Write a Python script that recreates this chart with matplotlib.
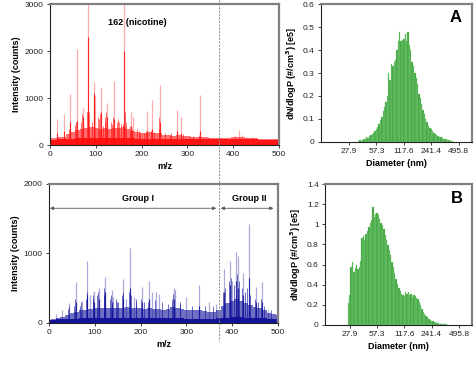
import numpy as np
import matplotlib
matplotlib.use("Agg")
import matplotlib.pyplot as plt
import matplotlib.transforms as mtransforms
from matplotlib.ticker import FixedLocator, FixedFormatter, NullLocator

plt.rcParams['font.family'] = ['Liberation Sans', 'DejaVu Sans']

# ---- mass spectra (m/z, counts) ----
grid_mz = list(range(0, 510, 10))

top_base = [110, 115, 120, 125, 130, 135, 140, 145, 150, 150, 150, 150, 150, 145, 145, 145, 145, 140, 140, 135,
            135, 135, 130, 130, 130, 130, 125, 125, 125, 125, 120, 120, 120, 120, 120, 120, 120, 120, 120, 120,
            125, 125, 125, 120, 120, 120, 115, 115, 115, 115, 115]
top_fuzz = [140, 150, 160, 180, 240, 280, 330, 350, 370, 380, 370, 350, 370, 340, 360, 370, 380, 340, 300, 270,
            250, 260, 270, 250, 250, 220, 210, 200, 210, 195, 185, 175, 180, 175, 160, 155, 155, 150, 155, 150,
            165, 180, 170, 150, 145, 145, 135, 135, 130, 130, 130]

top_faint_mz = [16, 30, 44, 58, 71, 84, 96, 99, 111, 125, 140, 162, 177, 181, 212, 223, 241, 278, 287, 328, 413, 420]
top_faint_h = [550, 650, 1080, 2040, 780, 3200, 1350, 1050, 1240, 900, 1360, 3200, 700, 600, 720, 950, 1275, 745,
               600, 1065, 320, 220]
top_strong_mz = [16, 30, 44, 58, 71, 84, 96, 111, 125, 140, 162, 177, 212, 223, 241, 278, 287, 328]
top_strong_h = [250, 300, 500, 520, 600, 2300, 1100, 700, 600, 550, 1990, 400, 300, 350, 500, 300, 250, 300]
top_clus_mz = [41, 43, 55, 57, 67, 69, 81, 83, 85, 91, 95, 97, 105, 107, 109, 115, 119, 121, 123, 133, 135, 137,
               147, 149, 151, 155, 159, 163, 165, 175, 179, 191, 195, 197, 205, 209, 221, 227, 237, 239, 251, 263,
               265, 277, 291, 305, 313, 326, 345, 405, 427, 441]
top_clus_h = [350, 480, 420, 500, 500, 650, 700, 900, 700, 500, 900, 700, 600, 550, 650, 400, 500, 600, 700, 500,
              450, 600, 500, 550, 500, 450, 450, 700, 500, 400, 350, 350, 300, 280, 250, 300, 300, 280, 350, 600,
              250, 220, 250, 300, 230, 200, 200, 220, 170, 200, 180, 160]

bot_base = [45, 50, 55, 55, 60, 60, 60, 65, 65, 65, 65, 65, 65, 65, 65, 65, 65, 65, 65, 65,
            65, 65, 65, 65, 65, 65, 65, 65, 65, 65, 60, 60, 60, 60, 60, 60, 60, 65, 70, 75,
            80, 80, 80, 75, 70, 70, 65, 65, 60, 60, 55]
bot_fuzz = [50, 60, 70, 90, 120, 140, 160, 180, 190, 200, 210, 210, 220, 210, 210, 220, 220, 230, 220, 210,
            210, 200, 210, 200, 200, 190, 200, 230, 220, 200, 190, 180, 180, 180, 170, 165, 165, 190, 250, 290,
            320, 340, 320, 290, 260, 230, 210, 180, 150, 130, 110]

bot_faint_mz = [15, 29, 44, 58, 71, 84, 90, 99, 109, 122, 137, 140, 162, 168, 177, 186, 204, 219, 224, 233, 240,
                273, 276, 300, 328, 349, 365, 382, 396, 400, 409, 413, 424, 437, 453, 466, 478]
bot_faint_h = [125, 190, 290, 585, 320, 890, 400, 460, 500, 666, 480, 380, 633, 350, 1075, 370, 513, 600, 450, 450,
               420, 500, 470, 380, 546, 300, 280, 777, 896, 600, 1017, 960, 720, 1425, 513, 585, 180]
bot_strong_mz = [58, 84, 99, 109, 122, 137, 162, 177, 204, 219, 273, 328, 382, 396, 409, 413, 424, 437, 453, 466]
bot_strong_h = [300, 400, 300, 350, 450, 300, 350, 500, 300, 350, 350, 250, 450, 550, 600, 500, 400, 650, 300, 300]
bot_clus_mz = [41, 43, 55, 57, 67, 69, 81, 83, 95, 97, 105, 107, 119, 121, 123, 133, 135, 147, 149, 151, 159, 161,
               175, 179, 189, 191, 201, 207, 217, 231, 247, 259, 269, 271, 285, 287, 313, 341, 357, 379, 385, 393,
               398, 405, 411, 415, 421, 427, 433, 439, 449, 457, 463, 470, 485]
bot_clus_h = [200, 250, 250, 350, 250, 300, 350, 450, 400, 350, 400, 450, 400, 500, 400, 350, 400, 350, 300, 300,
              400, 450, 450, 400, 350, 300, 350, 300, 300, 330, 300, 280, 350, 420, 300, 280, 250, 250, 250, 450,
              500, 600, 650, 550, 700, 600, 500, 450, 500, 400, 350, 300, 350, 250, 180]

# ---- size distributions (SMPS channel, 64 per decade; dN/dlogDp in e5) ----
chan_a = list(range(99, 168))
dn_a = [0.005, 0.008, 0.006, 0.010, 0.012, 0.015, 0.020, 0.018, 0.025, 0.030, 0.036, 0.040, 0.048, 0.055,
        0.065, 0.080, 0.095, 0.110, 0.135, 0.150, 0.175, 0.200, 0.300, 0.270, 0.340, 0.330, 0.350, 0.355,
        0.400, 0.440, 0.480, 0.440, 0.445, 0.450, 0.470, 0.440, 0.480, 0.420, 0.400, 0.350, 0.330, 0.300,
        0.280, 0.250, 0.210, 0.190, 0.165, 0.140, 0.120, 0.100, 0.085, 0.070, 0.062, 0.055, 0.048, 0.040,
        0.035, 0.030, 0.026, 0.022, 0.020, 0.018, 0.015, 0.012, 0.012, 0.008, 0.007, 0.005, 0.006]
chan_b = list(range(91, 164))
dn_b = [0.22, 0.30, 0.58, 0.63, 0.53, 0.57, 0.60, 0.56, 0.58, 0.64, 0.86, 0.88, 0.84, 0.90, 0.93, 0.97, 1.01,
        1.04, 1.17, 1.07, 1.10, 1.11, 1.09, 1.05, 1.01, 0.99, 0.95, 0.89, 0.84, 0.79, 0.75, 0.70, 0.63, 0.58,
        0.52, 0.46, 0.41, 0.37, 0.34, 0.31, 0.30, 0.29, 0.33, 0.31, 0.33, 0.30, 0.31, 0.28, 0.30, 0.29, 0.27,
        0.26, 0.23, 0.20, 0.16, 0.13, 0.11, 0.09, 0.08, 0.06, 0.05, 0.04, 0.035, 0.03, 0.025, 0.02, 0.018,
        0.014, 0.012, 0.010, 0.008, 0.006, 0.005]
dia_ticks = [27.9, 57.3, 117.6, 241.4, 495.8]

group_split = 370

fig = plt.figure(figsize=(4.74, 3.65), dpi=100)
ax1 = fig.add_axes([0.1055, 0.6027, 0.4831, 0.3863])
ax2 = fig.add_axes([0.6772, 0.611, 0.3186, 0.378])
ax3 = fig.add_axes([0.1034, 0.1151, 0.4831, 0.381])
ax4 = fig.add_axes([0.6857, 0.1096, 0.3101, 0.386])

lab = dict(fontsize=6.5, fontweight='bold')


def style(ax):
    for s in ['top', 'right']:
        ax.spines[s].set_color('#808080')
        ax.spines[s].set_linewidth(1.6)
    for s in ['left', 'bottom']:
        ax.spines[s].set_color('#222222')
        ax.spines[s].set_linewidth(0.8)
    ax.tick_params(direction='out', length=2.5, width=0.6, labelsize=6, colors='#222222',
                   top=False, right=False, pad=2)


def spectrum(ax, base, fuzz, faint, strong, clus, col, ymax):
    ax.fill_between(grid_mz, 0, fuzz, step='mid', color=col, alpha=0.6, lw=0)
    ax.fill_between(grid_mz, 0, base, step='mid', color=col, alpha=0.95, lw=0)
    ax.vlines(clus[0], 0, clus[1], color=col, alpha=0.6, lw=0.7)
    ax.vlines(faint[0], 0, faint[1], color=col, alpha=0.35, lw=0.9)
    ax.vlines(strong[0], 0, strong[1], color=col, alpha=0.85, lw=0.8)
    ax.set_xlim(0, 500)
    ax.set_ylim(0, ymax)
    ax.set_xticks([0, 100, 200, 300, 400, 500])
    ax.set_yticks(np.arange(0, ymax + 1, 1000))
    ax.set_xlabel('m/z', labelpad=3, **lab)
    ax.set_ylabel('Intensity (counts)', labelpad=3, **lab)
    style(ax)


def sizedist(ax, chan, dn, ymax, ystep, xlim):
    lo = [10 ** (c / 64) for c in chan]
    hi = [10 ** ((c + 1) / 64) for c in chan]
    ax.bar(lo, dn, width=np.array(hi) - np.array(lo), align='edge', color='#3aa33a',
           edgecolor='#8ed48e', linewidth=0.25)
    ax.set_xscale('log')
    ax.set_xlim(*xlim)
    ax.xaxis.set_major_locator(FixedLocator(dia_ticks))
    ax.xaxis.set_major_formatter(FixedFormatter([str(t) for t in dia_ticks]))
    ax.xaxis.set_minor_locator(NullLocator())
    ax.set_ylim(0, ymax)
    yt = np.round(np.arange(0, ymax + 1e-9, ystep), 2)
    ax.set_yticks(yt)
    ax.set_yticklabels(['%g' % v for v in yt])
    ax.set_xlabel('Diameter (nm)', labelpad=3, **lab)
    ax.set_ylabel('dN/dlogP (#/cm$^{\\mathbf{3}}$) [e5]', labelpad=3, **lab)
    style(ax)


spectrum(ax1, top_base, top_fuzz, (top_faint_mz, top_faint_h), (top_strong_mz, top_strong_h),
         (top_clus_mz, top_clus_h), '#ff1010', 3000)
spectrum(ax3, bot_base, bot_fuzz, (bot_faint_mz, bot_faint_h), (bot_strong_mz, bot_strong_h),
         (bot_clus_mz, bot_clus_h), '#10109a', 2000)
ax1.text(190, 2600, '162 (nicotine)', ha='center', va='center', fontsize=6.5, fontweight='bold')

sizedist(ax2, chan_a, dn_a, 0.6, 0.1, (13.4, 702))
sizedist(ax4, chan_b, dn_b, 1.4, 0.2, (14.5, 702))
ax2.text(0.89, 0.905, 'A', transform=ax2.transAxes, ha='center', va='center', fontsize=12, fontweight='bold')
ax4.text(0.90, 0.90, 'B', transform=ax4.transAxes, ha='center', va='center', fontsize=12, fontweight='bold')

# group arrows on the lower spectrum
arr = dict(arrowstyle='<|-|>', color='#555555', lw=0.6, mutation_scale=5, shrinkA=0, shrinkB=0)
ax3.annotate('', xy=(2, 1650), xytext=(group_split - 5, 1650), arrowprops=arr)
ax3.annotate('', xy=(group_split + 5, 1650), xytext=(490, 1650), arrowprops=arr)
ax3.text(194, 1790, 'Group I', ha='center', va='center', fontsize=6.5, fontweight='bold')
ax3.text(438, 1790, 'Group II', ha='center', va='center', fontsize=6.5, fontweight='bold')

# dashed divider through both spectra
tr = mtransforms.blended_transform_factory(ax1.transData, fig.transFigure)
fig.add_artist(plt.Line2D([group_split, group_split], [1.0, 0.065], transform=tr,
                          color='#888888', lw=0.7, ls=(0, (2, 1.5))))

fig.savefig('out.png', dpi=100)
